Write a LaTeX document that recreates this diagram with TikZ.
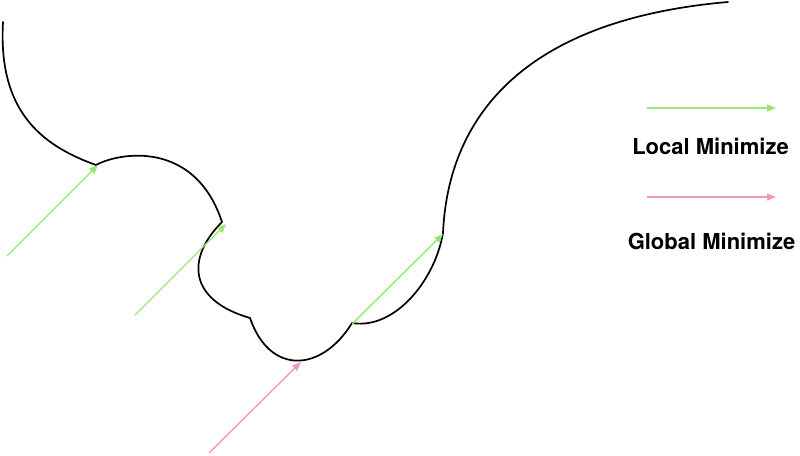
\documentclass[tikz,border=0pt]{standalone}
\usepackage{fontspec}
\setmainfont{TeX Gyre Heros}
\usetikzlibrary{arrows.meta}
\definecolor{localgreen}{HTML}{96E86E}
\definecolor{globalpink}{HTML}{F095C8}
\tikzset{
  landscape/.style={draw=black, line width=1.7bp, line join=round, line cap=round},
  localarrow/.style={draw=localgreen, line width=1.4bp, -{Triangle[length=9bp,width=7bp]}},
  globalarrow/.style={draw=globalpink, line width=1.4bp, -{Triangle[length=9bp,width=7bp]}},
  legendtext/.style={font=\bfseries\fontsize{22bp}{24bp}\selectfont, anchor=base, inner sep=0pt}
}
\begin{document}
\begin{tikzpicture}[x=1bp, y=-1bp]
\useasboundingbox (0,0) rectangle (800,456);
% kink points on the landscape
\coordinate (s) at (3,22);
\coordinate (k1) at (96,165);
\coordinate (k2) at (222,222);
\coordinate (k3) at (250,318);
\coordinate (k4) at (352,323);
\coordinate (k5) at (443,233);
\coordinate (e) at (728,2);
\draw[landscape] (s) .. controls (-2,110) and (40,145) .. (k1)
  .. controls (120,152) and (195,140) .. (k2)
  .. controls (186,258) and (188,300) .. (k3)
  .. controls (270,376) and (322,372) .. (k4)
  .. controls (395,330) and (435,280) .. (k5)
  .. controls (448,120) and (520,20) .. (e);
% arrows
\coordinate (a1s) at (7,256);   \coordinate (a1e) at (98,165);
\coordinate (a2s) at (135,315); \coordinate (a2e) at (226,224);
\coordinate (a3s) at (352,324); \coordinate (a3e) at (443,234);
\coordinate (p1s) at (209,453); \coordinate (p1e) at (301,362);
\draw[localarrow] (a1s) -- (a1e);
\draw[localarrow] (a2s) -- (a2e);
\draw[localarrow] (a3s) -- (a3e);
\draw[globalarrow] (p1s) -- (p1e);
% legend
\coordinate (l1s) at (647,108); \coordinate (l1e) at (776,108);
\coordinate (l2s) at (647,197); \coordinate (l2e) at (776,197);
\draw[localarrow] (l1s) -- (l1e);
\draw[globalarrow] (l2s) -- (l2e);
\node[legendtext] (loc) at (710.5,155) {Local Minimize};
\node[legendtext] (glob) at (711.5,250) {Global Minimize};
\end{tikzpicture}
\end{document}
